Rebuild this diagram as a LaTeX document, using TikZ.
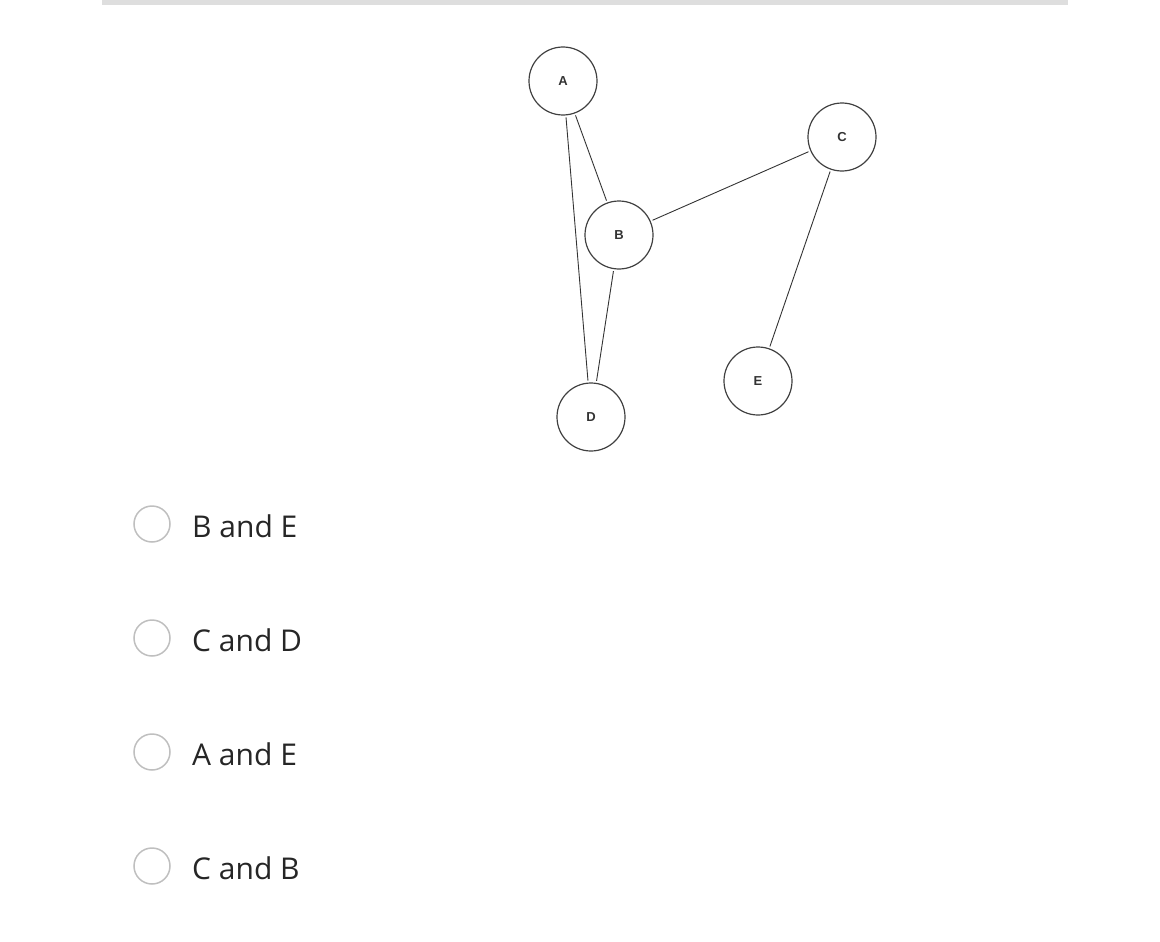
\documentclass[tikz,border=0pt]{standalone}
\usepackage{fontspec}
\setmainfont{Open Sans}
\setsansfont{Liberation Sans}
\begin{document}
\begin{tikzpicture}[x=1pt,y=-1pt,
  vert/.style={circle,draw=black!75,line width=1.2pt,minimum size=68pt,inner sep=0pt,font=\fontsize{13}{15}\selectfont\sffamily\bfseries,text=black!80},
  edge/.style={draw=black!80,line width=0.9pt,shorten <=2pt,shorten >=2pt},
  radio/.style={circle,draw=black!25,line width=1.5pt,minimum size=36pt,inner sep=0pt},
  opt/.style={anchor=west,inner sep=0pt,font=\fontsize{30}{34}\selectfont,text=black!85}]
\useasboundingbox (0,0) rectangle (1160,942);
\fill[black!13] (102,0) rectangle (1068,5);
\node[vert] (A) at (563,81) {A};
\node[vert] (C) at (842,137) {C};
\node[vert] (B) at (619,235) {B};
\node[vert] (E) at (758,381) {E};
\node[vert] (D) at (591,417) {D};
\draw[edge] (A) -- (B);
\draw[edge] (A) -- (D);
\draw[edge] (B) -- (D);
\draw[edge] (B) -- (C);
\draw[edge] (C) -- (E);
\node[radio] (r1) at (152,524) {};
\node[opt] (t1) at (192,526) {B and E};
\node[radio] (r2) at (152,638) {};
\node[opt] (t2) at (192,640) {C and D};
\node[radio] (r3) at (152,752) {};
\node[opt] (t3) at (192,754) {A and E};
\node[radio] (r4) at (152,866) {};
\node[opt] (t4) at (192,868) {C and B};
\end{tikzpicture}
\end{document}
